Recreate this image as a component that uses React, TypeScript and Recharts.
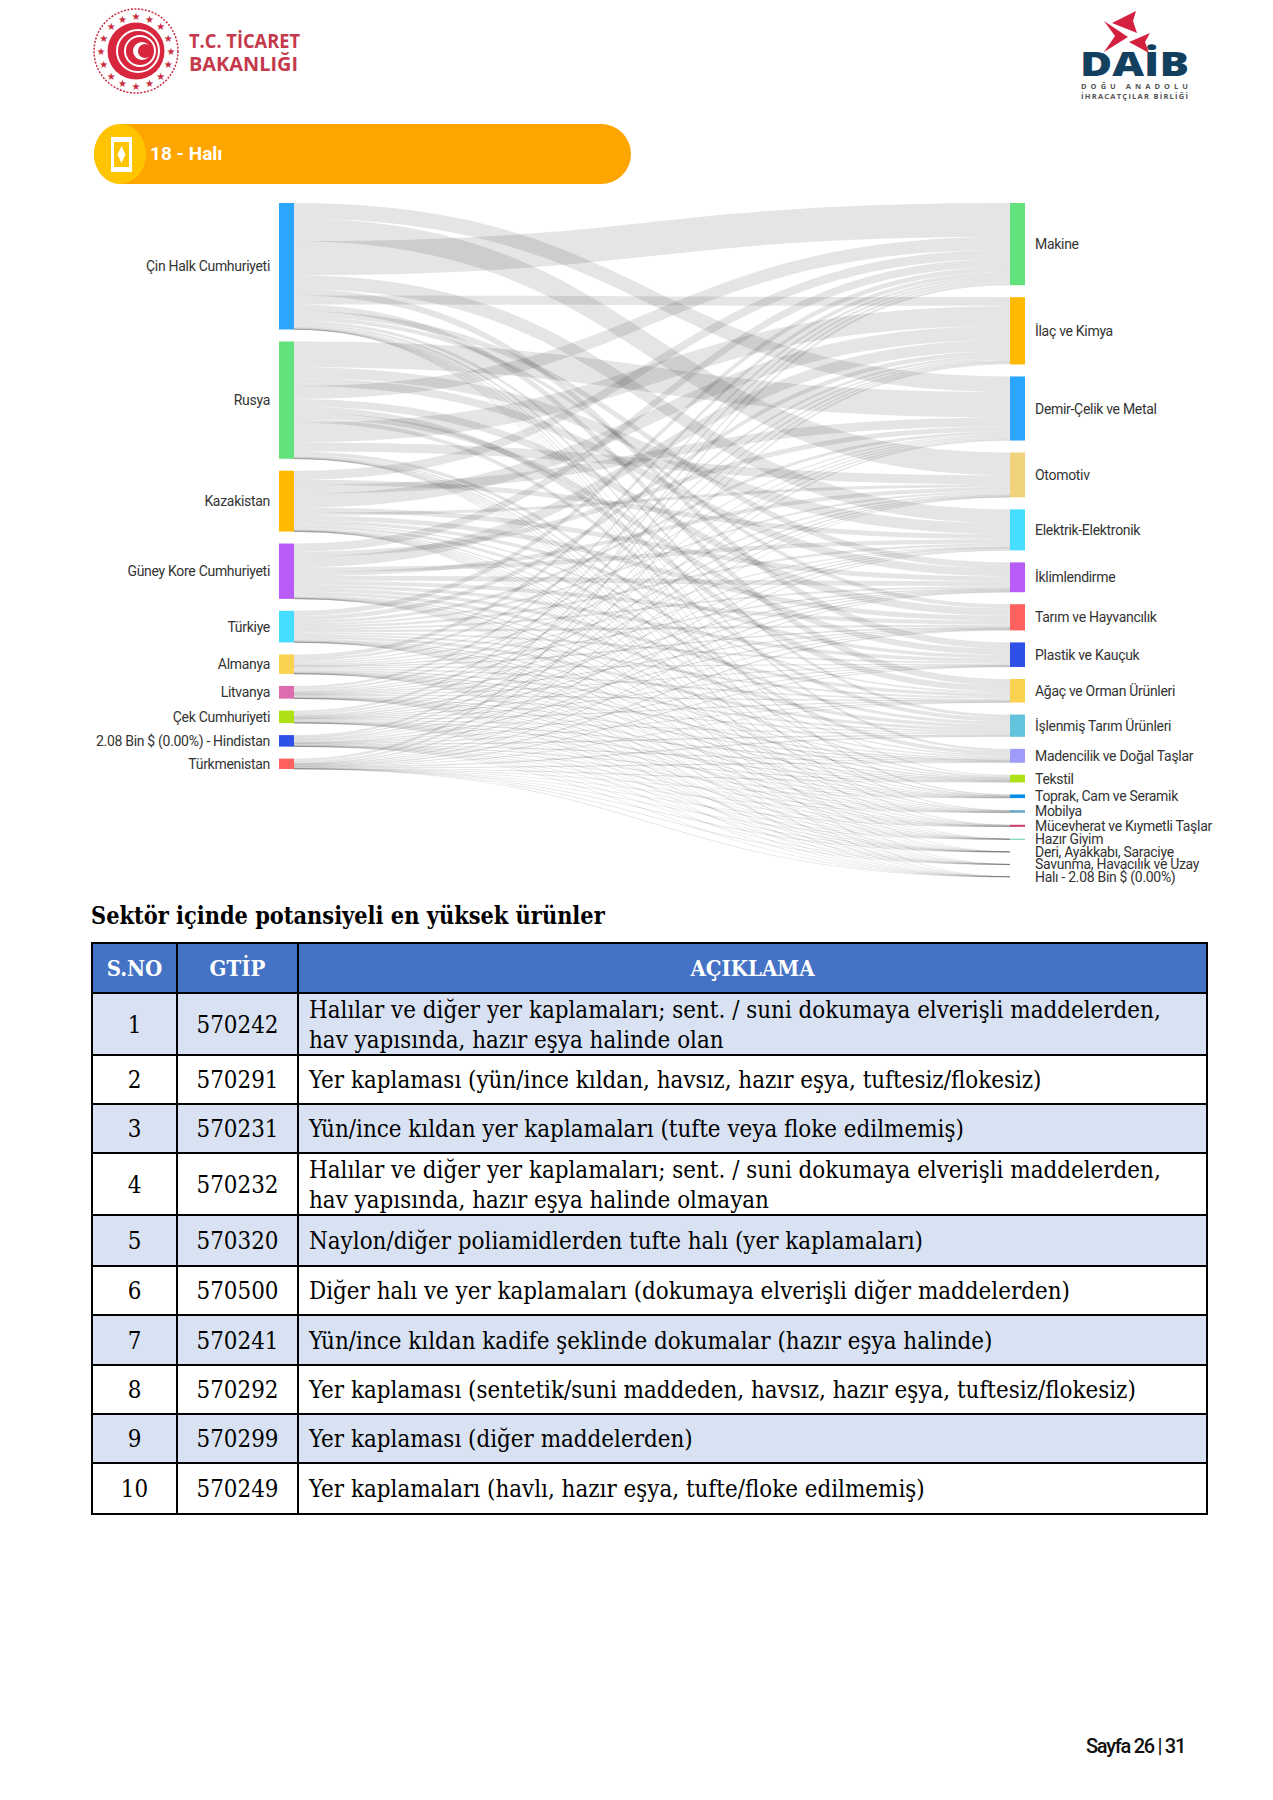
import { Sankey } from 'recharts'

const ulkeler = ['Çin Halk Cumhuriyeti', 'Rusya', 'Kazakistan', 'Güney Kore Cumhuriyeti', 'Türkiye', 'Almanya', 'Litvanya', 'Çek Cumhuriyeti', '2.08 Bin $ (0.00%) - Hindistan', 'Türkmenistan']
const sektorler = ['Makine', 'İlaç ve Kimya', 'Demir-Çelik ve Metal', 'Otomotiv', 'Elektrik-Elektronik', 'İklimlendirme', 'Tarım ve Hayvancılık', 'Plastik ve Kauçuk', 'Ağaç ve Orman Ürünleri', 'İşlenmiş Tarım Ürünleri', 'Madencilik ve Doğal Taşlar', 'Tekstil', 'Toprak, Cam ve Seramik', 'Mobilya', 'Mücevherat ve Kıymetli Taşlar', 'Hazır Giyim', 'Deri, Ayakkabı, Saraciye', 'Savunma, Havacılık ve Uzay', 'Halı - 2.08 Bin $ (0.00%)']

const renkUlke = ['#2BA6FF', '#62E27C', '#FFB900', '#B95CF6', '#47DDFF', '#F9D24F', '#DD6CAE', '#AEE016', '#2E50E6', '#FF6060']
const renkSektor = ['#62E27C', '#FFB900', '#2BA6FF', '#F0D27C', '#47DDFF', '#B95CF6', '#FF6060', '#2E50E6', '#F9D24F', '#62C4DC', '#9E9CF8', '#AEE016', '#0A8FE8', '#6FA8C8', '#C83A6A', '#2DB88A', '#ffffff', '#ffffff', '#ffffff']

// satır: ülke, sütun: sektör (sektorler sırası)
const cin = [34, 9, 15.5, 23, 14, 6, 4, 6.5, 6.5, 3, 2.4, 1.2, 0.8, 0.5, 0.4, 0.1, 0.1, 0.05, 0.05]
const rusya = [13, 20, 25.8, 9, 11, 8, 7.5, 6, 6.2, 4, 3.6, 1.8, 0.8, 0.5, 0.4, 0.1, 0.1, 0.05, 0.05]
const kazakistan = [9, 14, 9, 3, 5, 5, 5, 3.5, 1.6, 3, 1.4, 0.5, 0.3, 0.3, 0.2, 0.1, 0.08, 0.06, 0.04]
const guneyKore = [8, 11, 5, 4, 4.5, 5, 4, 3.5, 3.5, 3.4, 1.6, 1, 0.3, 0.3, 0.2, 0.1, 0.08, 0.06, 0.04]
const turkiye = [5, 4.5, 3, 2, 2.4, 2, 2.5, 1.9, 2, 3, 1.4, 0.8, 0.5, 0.3, 0.2, 0.1, 0.06, 0.06, 0.04]
const almanya = [4, 2.5, 1.4, 1.6, 1.2, 1, 0.8, 1.4, 1.6, 1.6, 1, 0.6, 0.3, 0.2, 0.2, 0.05, 0.05, 0.04, 0.03]
const litvanya = [2.6, 2, 1.2, 0.8, 0.6, 0.8, 0.6, 0.5, 0.8, 1.2, 0.6, 0.4, 0.2, 0.2, 0.1, 0.05, 0.05, 0.04, 0.03]
const cek = [2.2, 1.8, 1.1, 1, 0.6, 0.8, 0.6, 0.5, 0.8, 1.2, 0.8, 0.6, 0.2, 0.1, 0.1, 0.05, 0.04, 0.04, 0.03]
const hindistan = [2.3, 0.8, 1.6, 0.4, 1.5, 1, 0.4, 0.5, 0.4, 1, 0.6, 0.4, 0.2, 0.2, 0.1, 0.05, 0.04, 0.03, 0.03]
const turkmenistan = [2.5, 2, 0.8, 0.2, 0.5, 0.4, 0.9, 0.4, 0.3, 1, 0.6, 0.4, 0.1, 0.1, 0.1, 0.05, 0.04, 0.03, 0.03]
const matris = [cin, rusya, kazakistan, guneyKore, turkiye, almanya, litvanya, cek, hindistan, turkmenistan]

// kaynak düğümde üstten alta ilk bantlar (geri kalanı sektör sırasıyla)
const siraCin = [2, 3, 0, 4, 7, 1, 8, 5, 6]
const siraRusya = [2, 4, 5, 0, 6, 8, 7, 9, 1, 3]
const siraKazakistan = [0, 4, 2, 1, 5]
const siraGuneyKore = [0, 2, 1, 4]
const siralar = [siraCin, siraRusya, siraKazakistan, siraGuneyKore, [], [], [], [], [], []]

const baslik = ['S.NO', 'GTİP', 'AÇIKLAMA']
const gtip = ['570242', '570291', '570231', '570232', '570320', '570500', '570241', '570292', '570299', '570249']
const aciklama = [
  ['Halılar ve diğer yer kaplamaları; sent. / suni dokumaya elverişli maddelerden,', 'hav yapısında, hazır eşya halinde olan'],
  ['Yer kaplaması (yün/ince kıldan, havsız, hazır eşya, tuftesiz/flokesiz)'],
  ['Yün/ince kıldan yer kaplamaları (tufte veya floke edilmemiş)'],
  ['Halılar ve diğer yer kaplamaları; sent. / suni dokumaya elverişli maddelerden,', 'hav yapısında, hazır eşya halinde olmayan'],
  ['Naylon/diğer poliamidlerden tufte halı (yer kaplamaları)'],
  ['Diğer halı ve yer kaplamaları (dokumaya elverişli diğer maddelerden)'],
  ['Yün/ince kıldan kadife şeklinde dokumalar (hazır eşya halinde)'],
  ['Yer kaplaması (sentetik/suni maddeden, havsız, hazır eşya, tuftesiz/flokesiz)'],
  ['Yer kaplaması (diğer maddelerden)'],
  ['Yer kaplamaları (havlı, hazır eşya, tufte/floke edilmemiş)'],
]
const satirBoyu = [60, 49, 49, 60, 51, 49, 50, 49, 49, 51]

const nodes = [...ulkeler, ...sektorler].map((name) => ({ name }))
const renkler = [...renkUlke, ...renkSektor]

const links = matris.flatMap((satir, s) => {
  const sira = [...siralar[s], ...satir.map((_, t) => t).filter((t) => !siralar[s].includes(t))]
  let toplam = 0
  const ofset: number[] = []
  sira.forEach((t) => { ofset[t] = toplam; toplam += satir[t] })
  return satir.map((value, t) => ({ source: s, target: ulkeler.length + t, value, ofset: ofset[t] }))
})

const serif = '"DejaVu Serif Condensed", "Liberation Serif", serif'

function Bant(props: any) {
  const { sourceX, targetX, sourceY, targetY, sourceControlX, targetControlX, sourceRelativeY, linkWidth, payload } = props
  const ky = linkWidth / payload.value
  // bantlar kaynakta veri sırasına göre dizilir
  const y0 = sourceY - linkWidth / 2 - sourceRelativeY + payload.ofset * ky
  const y1 = y0 + linkWidth
  const t0 = targetY - linkWidth / 2
  const t1 = targetY + linkWidth / 2
  const d = `M${sourceX},${y0}C${sourceControlX},${y0} ${targetControlX},${t0} ${targetX},${t0}L${targetX},${t1}C${targetControlX},${t1} ${sourceControlX},${y1} ${sourceX},${y1}Z`
  return <path d={d} fill="#000" fillOpacity={0.1} stroke="#000" strokeOpacity={0.08} strokeWidth={linkWidth < 1 ? 0.5 : 0} />
}

function Dugum(props: any) {
  const { x, y, width, height, index, payload } = props
  const solda = index < ulkeler.length
  return (
    <g>
      <rect x={x} y={y} width={width} height={height} fill={renkler[index]} />
      <text
        x={solda ? x - 9 : x + width + 10}
        y={y + height / 2}
        dy="0.36em"
        textAnchor={solda ? 'end' : 'start'}
        fontFamily="Roboto, sans-serif"
        fontSize={14}
        letterSpacing={-0.3}
        fill="#333"
      >
        {payload.name}
      </text>
    </g>
  )
}

function Logolar() {
  return (
    <svg width={1273} height={200} style={{ position: 'absolute', left: 0, top: 0 }}>
      <circle cx={136} cy={51} r={42} fill="none" stroke="#C92A40" strokeWidth={1.5} strokeDasharray="2 1.5" />
      <circle cx={136} cy={51} r={28.5} fill="#D7263D" />
      <circle cx={138} cy={51} r={21} fill="none" stroke="#fff" strokeWidth={2} />
      <circle cx={140} cy={51} r={15} fill="none" stroke="#fff" strokeWidth={2} />
      <circle cx={142} cy={51} r={9} fill="#fff" />
      <circle cx={145} cy={51} r={7} fill="#D7263D" />
      {[0, 1, 2, 3, 4, 5, 6, 7, 8, 9, 10, 11, 12, 13, 14, 15].map((i) => (
        <text key={i} x={136 + 35 * Math.cos((i * Math.PI) / 8)} y={55 + 35 * Math.sin((i * Math.PI) / 8)} textAnchor="middle" fontSize={10} fill="#C92A40" fontFamily="DejaVu Sans">★</text>
      ))}
      <text fontFamily="Open Sans, sans-serif" fontWeight={700} fontSize={19} fill="#C4394C">
        <tspan x={189} y={48} textLength={111} lengthAdjust="spacingAndGlyphs">T.C. TİCARET</tspan>
        <tspan x={189} y={71} textLength={109} lengthAdjust="spacingAndGlyphs">BAKANLIĞI</tspan>
      </text>

      <polygon points="1136,11 1112,23 1137,33 1133,21" fill="#D4213F" />
      <polygon points="1104,21 1128,37 1104,52 1115,36" fill="#D4213F" />
      <polygon points="1150,33 1129,42 1149,53 1145,42" fill="#D4213F" />
      <text x={1080} y={76} fontFamily="Open Sans, sans-serif" fontWeight={800} fontSize={33} fill="#14405F" textLength={109} lengthAdjust="spacingAndGlyphs">DAİB</text>
      <text fontFamily="Open Sans, sans-serif" fontWeight={700} fill="#555" fontSize={7.5}>
        <tspan x={1081} y={89} textLength={107}>DOĞU ANADOLU</tspan>
        <tspan x={1081} y={98.5} textLength={107}>İHRACATÇILAR BİRLİĞİ</tspan>
      </text>

      <rect x={94} y={124} width={537} height={60} rx={30} fill="#FFA500" />
      <ellipse cx={120} cy={154} rx={26} ry={30} fill="#FFC400" />
      <rect x={111} y={137} width={21} height={35} fill="#fff" />
      <rect x={114} y={142} width={15} height={25} fill="#FFC400" />
      <polygon points="121.5,146 125.5,154.5 121.5,163 117.5,154.5" fill="#fff" />
      <text x={150} y={160} fontFamily="Roboto, sans-serif" fontWeight={700} fontSize={19} fill="#fff">18 - Halı</text>
    </svg>
  )
}

const kenar = '2px solid #000'

export default function App() {
  return (
    <div style={{ position: 'absolute', left: 0, top: 0, width: 1273, height: 1800, background: '#fff', overflow: 'hidden' }}>
      <Logolar />
      <div style={{ position: 'absolute', left: 0, top: 190 }}>
        <Sankey
          width={1273}
          height={700}
          data={{ nodes, links }}
          margin={{ top: 13, right: 248, bottom: 13, left: 279 }}
          nodeWidth={15}
          nodePadding={12}
          iterations={0}
          sort={false}
          linkCurvature={0.5}
          node={Dugum}
          link={Bant}
        />
      </div>

      <div style={{ position: 'absolute', left: 91, top: 902, fontFamily: serif, fontWeight: 700, fontSize: 23.3, color: '#000', whiteSpace: 'nowrap' }}>
        Sektör içinde potansiyeli en yüksek ürünler
      </div>

      <table style={{ position: 'absolute', left: 91, top: 942, width: 1117, borderCollapse: 'collapse', tableLayout: 'fixed', fontFamily: serif, fontSize: 23.9, color: '#000' }}>
        <colgroup>
          <col style={{ width: 85 }} />
          <col style={{ width: 121 }} />
          <col />
        </colgroup>
        <thead>
          <tr style={{ height: 50, background: '#4472C4', color: '#fff' }}>
            {baslik.map((b) => (
              <th key={b} style={{ border: kenar, padding: 0, fontWeight: 700, fontSize: 22 }}>{b}</th>
            ))}
          </tr>
        </thead>
        <tbody>
          {gtip.map((g, i) => (
            <tr key={g} style={{ height: satirBoyu[i], background: i % 2 === 0 ? '#D9E2F3' : '#fff' }}>
              <td style={{ border: kenar, padding: '1px 0 0 0', textAlign: 'center' }}>{i + 1}</td>
              <td style={{ border: kenar, padding: '1px 0 0 0', textAlign: 'center' }}>{g}</td>
              <td style={{ border: kenar, padding: '1px 0 0 10px', lineHeight: '29.5px', whiteSpace: 'nowrap', verticalAlign: 'middle' }}>
                {aciklama[i].map((l) => <div key={l} style={{ position: 'relative', top: 1 }}>{l}</div>)}
              </td>
            </tr>
          ))}
        </tbody>
      </table>

      <div style={{ position: 'absolute', left: 1086, top: 1734, fontFamily: 'Roboto, sans-serif', fontWeight: 500, fontSize: 20, letterSpacing: -1.3, color: '#111', whiteSpace: 'nowrap' }}>
        Sayfa 26 | 31
      </div>
    </div>
  )
}
